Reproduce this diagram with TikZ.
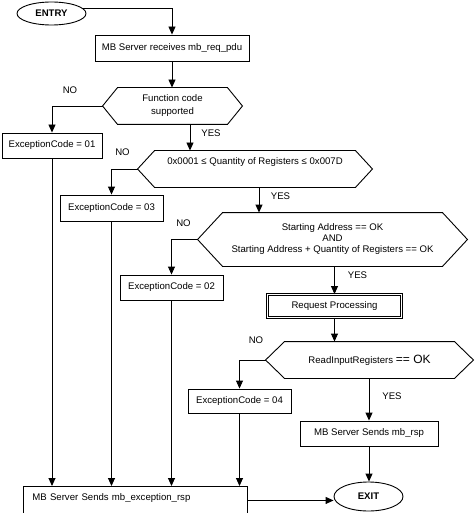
\documentclass[tikz,border=0pt]{standalone}
\usepackage{fontspec}
\setmainfont{Liberation Sans}
\usetikzlibrary{arrows.meta,shapes.geometric}
\tikzset{
  caja/.style={draw, minimum height=25, inner sep=0pt},
  term/.style={draw, ellipse, inner sep=0pt, font=\fontsize{9.6}{11}\selectfont\bfseries},
  hexa/.style={minimum height=36, inner sep=0pt, align=center},
  etiq/.style={inner sep=0pt}
}
% hexagono alrededor de un nodo: #1 nombre, #2 punta
\newcommand{\hexagono}[2]{%
  \draw (#1.west) -- ([xshift=#2]#1.north west) -- ([xshift=-#2]#1.north east)
    -- (#1.east) -- ([xshift=-#2]#1.south east) -- ([xshift=#2]#1.south west) -- cycle;}
\begin{document}
\begin{tikzpicture}[x=1pt, y=-1pt, line width=0.9pt,
  font=\fontsize{9.6}{11}\selectfont,
  >={Triangle[length=8pt,width=7pt]}]
  \useasboundingbox (0,0) rectangle (474,513);
  \clip (0,0) rectangle (474,513);

  %Inicio y primera caja
  \node[term, minimum width=69, minimum height=23] (entry) at (51.5,13.5) {ENTRY};
  \node[caja, minimum width=154, minimum height=26] (req) at (172,48) {MB Server receives mb\_req\_pdu};

  %Decisiones
  \node[hexa, minimum width=139] (func) at (172.5,106) {Function code\\[2pt]supported};
  \hexagono{func}{15}
  \node[hexa, minimum width=234, text depth=16pt] (qty) at (255,169) {0x0001 ≤ Quantity of Registers ≤ 0x007D};
  \hexagono{qty}{17}
  \node[hexa, minimum width=269, minimum height=53] (addr) at (332.5,239.5)
    {Starting Address == OK\\AND\\Starting Address + Quantity of Registers == OK};
  \hexagono{addr}{25}
  \node[hexa, minimum width=207] (read) at (369.5,360)
    {ReadInputRegisters {\fontsize{12}{12}\selectfont == OK}};
  \hexagono{read}{19}

  %Excepciones
  \node[caja, minimum width=100] (exc1) at (52,145.5) {ExceptionCode = 01};
  \node[caja, minimum width=103, minimum height=26] (exc3) at (111.5,208) {ExceptionCode = 03};
  \node[caja, minimum width=103] (exc2) at (171.5,287.5) {ExceptionCode = 02};
  \node[caja, minimum width=103, minimum height=24] (exc4) at (239.5,401) {ExceptionCode = 04};

  %Proceso y respuestas
  \node[caja, double, double distance=1.6pt, minimum width=134, minimum height=23] (proc) at (334.5,306) {Request Processing};
  \node[caja, minimum width=138] (rsp) at (369,433.5) {MB Server Sends mb\_rsp};
  \node[caja, anchor=north west, text width=206, inner xsep=9pt, align=left,
    minimum height=28, text depth=6.5pt] (xrsp) at (23,486) {MB Server Sends mb\_exception\_rsp};
  \node[term, minimum width=69, minimum height=29] (exit) at (368.5,496.5) {EXIT};

  %Etiquetas
  \node[etiq] (no1) at (70,90) {NO};
  \node[etiq] (yes1) at (211,133.5) {YES};
  \node[etiq] (no2) at (122.5,152.5) {NO};
  \node[etiq] (yes2) at (280.5,196.5) {YES};
  \node[etiq] (no3) at (183.5,223) {NO};
  \node[etiq] (yes3) at (357.5,275.5) {YES};
  \node[etiq] (no4) at (256,340) {NO};
  \node[etiq] (yes4) at (392,396.5) {YES};

  %Flechas
  \draw[->] (entry.10) -| (req.north);
  \draw[->] (req.south) -- (req.south |- func.north);
  \draw[->] (func.west) -| (exc1.north);
  \draw[->] ([xshift=17.5]func.south) -- ([xshift=17.5]func.south |- qty.north);
  \draw[->] (qty.west) -| (exc3.north);
  \draw[->] ([xshift=4]qty.south) -- ([xshift=4]qty.south |- addr.north);
  \draw[->] (addr.west) -| (exc2.north);
  \draw[->] (addr.south -| proc.north) -- (proc.north);
  \draw[->] (proc.south) -- (proc.south |- read.north);
  \draw[->] (read.west) -| (exc4.north);
  \draw[->] (read.south -| rsp.north) -- (rsp.north);
  \draw[->] (rsp.south) -- (rsp.south |- exit.north);
  \draw[->] (xrsp.east) -- (xrsp.east -| exit.west);
  \foreach \e in {exc1,exc3,exc2,exc4}
    \draw[->] (\e.south) -- (\e.south |- xrsp.north);
\end{tikzpicture}
\end{document}
